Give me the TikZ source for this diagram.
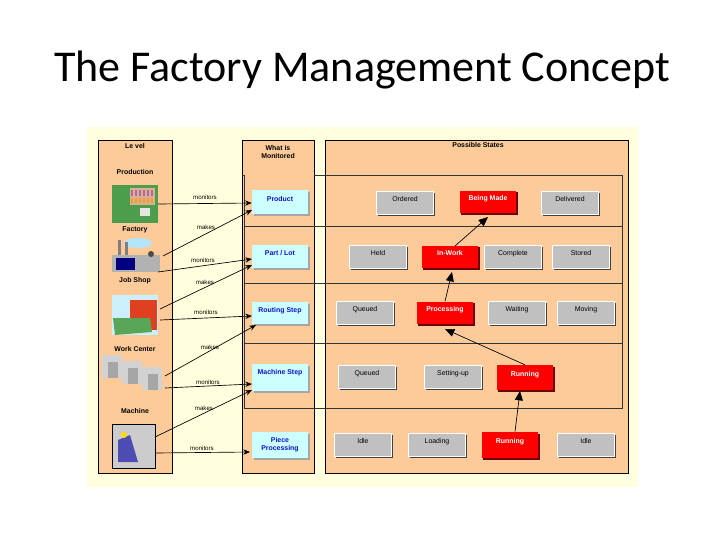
\documentclass[tikz,border=0pt]{standalone}
\usepackage{fontspec}
\setmainfont{Liberation Sans}
\newfontfamily\titlefont{Carlito}
\usetikzlibrary{shadows,arrows.meta}
\definecolor{bgy}{HTML}{FFFFDD}
\definecolor{pan}{HTML}{FCCB99}
\definecolor{bbox}{HTML}{CCFFFF}
\definecolor{btxt}{HTML}{1010D0}
\definecolor{gbox}{HTML}{C0C0C0}
\definecolor{dred}{HTML}{700000}
\begin{document}
\begin{tikzpicture}[x=0.75pt,y=-0.75pt,
 sm/.style={font=\fontsize{4.6}{5.5}\selectfont,inner sep=0.5pt},
 lvl/.style={font=\bfseries\fontsize{5.2}{6.2}\selectfont,inner sep=0.5pt},
 mon/.style={draw=none,fill=bbox,drop shadow={shadow xshift=1.3pt,shadow yshift=-1.3pt,fill=gray!70,opacity=1},font=\bfseries\fontsize{5.2}{6.2}\selectfont,text=btxt,align=center,minimum width=42pt,text depth=5pt,inner sep=1pt},
 st/.style={draw=white,line width=0.5pt,fill=gbox,drop shadow={shadow xshift=1.3pt,shadow yshift=-1.3pt,fill=black!75,opacity=1},font=\fontsize{5.2}{6.2}\selectfont,minimum width=42.5pt,minimum height=17pt,text depth=6pt,inner sep=0.5pt},
 rs/.style={st,draw=none,fill=red,text=white,font=\bfseries\fontsize{5.2}{6.2}\selectfont,drop shadow={shadow xshift=1.3pt,shadow yshift=-1.3pt,fill=dred,opacity=1}},
 ar/.style={-{Stealth[length=5pt,width=4pt]},line width=0.5pt},
 sa/.style={-{Triangle[length=7pt,width=6pt]},line width=0.5pt}]
\useasboundingbox (0,0) rectangle (728,546);
\node[font=\titlefont\fontsize{33}{38}\selectfont,anchor=west,inner sep=0] (title) at (54,70) {The Factory Management Concept};
\fill[bgy] (87,127) rectangle (638,487);
\draw[fill=pan,line width=0.6pt] (98,140) rectangle (172,473);
\draw[fill=pan,line width=0.6pt] (242,140) rectangle (314,473);
\draw[fill=pan,line width=0.6pt] (325,140) rectangle (628,473);
\draw[line width=0.4pt,black!80] (314,175) -- (622,175) -- (622,408) -- (244,408) -- (244,175) -- (242,175);
\foreach \yy in {226,283,343}{\draw[line width=0.4pt,black!80] (244,\yy) -- (622,\yy);}
\node[lvl] (tl) at (135,146) {Le vel};
\node[lvl,align=center] (tm) at (278,152) {What is\\Monitored};
\node[lvl] (tp) at (478,145) {Possible States};
\node[lvl] (l1) at (135,172) {Production};
\node[lvl] (l2) at (135,230) {Factory};
\node[lvl] (l3) at (135,281) {Job Shop};
\node[lvl] (l4) at (135,349) {Work Center};
\node[lvl] (l5) at (135,411) {Machine};
% clipart
\fill[green!45!black!70] (112,185) rectangle (158,223);
\fill[brown!60] (130,188) rectangle (155,205);
\foreach \i in {0,...,5}{\fill[blue!50!red!60] (131+\i*4,190) rectangle (133+\i*4,196);\fill[orange!80] (131+\i*4,198) rectangle (133+\i*4,203);}
\fill[white!80!gray] (140,208) rectangle (150,216);
\coordinate (i1) at (158,204);
\fill[cyan!30] (138,243) ellipse (14 and 5);
\fill[gray!60] (112,255) rectangle (160,272);
\fill[blue!50!black] (116,258) rectangle (135,270);
\fill[gray] (118,240) rectangle (121,255);\fill[gray] (125,242) rectangle (128,255);
\fill[black!70] (151,254) circle (3);
\coordinate (i2a) at (163,256);\coordinate (i2b) at (158,272);
\fill[cyan!20] (112,295) rectangle (158,335);
\fill[red!50!brown] (130,300) rectangle (157,330);
\fill[green!30!gray] (113,318) -- (150,318) -- (152,332) -- (115,335) -- cycle;
\coordinate (i3a) at (160,309);\coordinate (i3b) at (160,320);
\foreach \dx in {0,20,40}{\fill[gray!35] (102+\dx,355+\dx*0.3) rectangle (122+\dx,378+\dx*0.3);\fill[gray!70] (108+\dx,362+\dx*0.3) rectangle (118+\dx,378+\dx*0.3);}
\coordinate (i4a) at (165,376);\coordinate (i4b) at (165,388);
\draw[fill=gray!40,line width=0.5pt] (112,424) rectangle (155,468);
\fill[blue!40!gray] (118,440) -- (130,435) -- (138,462) -- (118,462) -- cycle;
\fill[yellow!80!orange] (124,435) circle (3);
\coordinate (i5a) at (155,437);\coordinate (i5b) at (155,453);
% monitored
\node[mon,minimum height=18pt] (m1) at (280,202) {Product};
\node[mon,minimum height=17pt] (m2) at (280,256.5) {Part / Lot};
\node[mon,minimum height=16.5pt] (m3) at (280,313) {Routing Step};
\node[mon,minimum height=20pt,text depth=9pt] (m4) at (280,377.5) {Machine Step};
\node[mon,minimum height=19.5pt,text depth=2pt] (m5) at (280,445) {Piece\\Processing};
\draw[ar] (i1) -- (m1.west |- 0,203);
\draw[ar] (i2a) -- (252,210);
\draw[ar] (i2b) -- (252,259);
\draw[ar] (i3a) -- (252,265);
\draw[ar] (i3b) -- (252,316);
\draw[ar] (i4a) -- (256,325);
\draw[ar] (i4b) -- (252,384);
\draw[ar] (i5a) -- (252,390);
\draw[ar] (i5b) -- (250,452);
\node[sm] (a1) at (205,197) {monitors};
\node[sm] (a2) at (206,227) {makes};
\node[sm] (a3) at (203,260) {monitors};
\node[sm] (a4) at (205,282) {makes};
\node[sm] (a5) at (206,312) {monitors};
\node[sm] (a6) at (210,347) {makes};
\node[sm] (a7) at (208,382) {monitors};
\node[sm] (a8) at (204,408) {makes};
\node[sm] (a9) at (202,448) {monitors};
% states
\node[st] (s11) at (405,203) {Ordered};
\node[rs] (s12) at (488,202) {Being Made};
\node[st] (s13) at (570,203) {Delivered};
\node[st] (s21) at (378,257) {Held};
\node[rs] (s22) at (450,257) {In-Work};
\node[st] (s23) at (513,257) {Complete};
\node[st] (s24) at (581,257) {Stored};
\node[st] (s31) at (365,313) {Queued};
\node[rs] (s32) at (445,313) {Processing};
\node[st] (s33) at (517,313) {Waiting};
\node[st] (s34) at (586,313) {Moving};
\node[st] (s41) at (367,377) {Queued};
\node[st] (s42) at (453,377) {Setting-up};
\node[rs,minimum height=18.5pt] (s43) at (525,377.5) {Running};
\node[st] (s51) at (363,445) {Idle};
\node[st] (s52) at (437,445) {Loading};
\node[rs,minimum height=19.5pt] (s53) at (510,445) {Running};
\node[st] (s54) at (586,445) {Idle};
\draw[sa] (s53.north -| 515,0) -- (520,391);
\draw[sa] (s43.north) -- (445,329);
\draw[sa] (s32.north) -- (452,272);
\draw[sa] (455,246) -- (488,217);
\end{tikzpicture}
\end{document}
